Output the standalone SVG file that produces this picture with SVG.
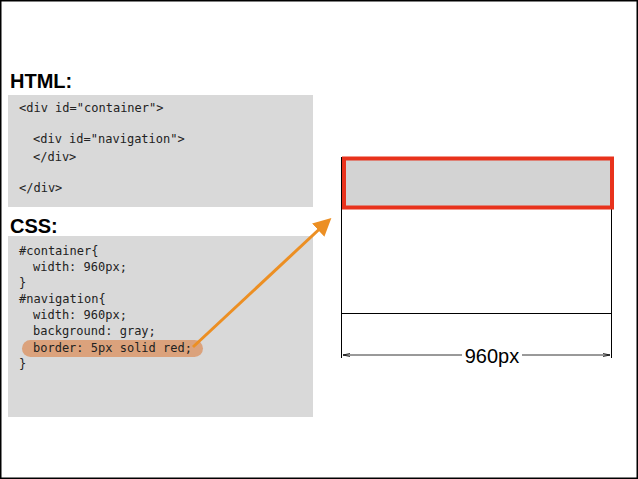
<svg xmlns="http://www.w3.org/2000/svg" width="638" height="479" viewBox="0 0 638 479">
<style>
.code{font-family:"DejaVu Sans Mono","Liberation Mono",monospace;font-size:12px;fill:#222}
.hd{font-family:"Liberation Sans",Arial,sans-serif;font-size:20px;font-weight:bold;fill:#000}
.box{fill:#d9d9d9}
</style>
<defs>
<marker id="ah" markerWidth="6" markerHeight="6" refX="4" refY="3" orient="auto" markerUnits="strokeWidth"><path d="M0,0 L6,3 L0,6 z" fill="#ec8f23"/></marker>
<marker id="sa" markerWidth="8" markerHeight="6" refX="7" refY="3" orient="auto-start-reverse" markerUnits="userSpaceOnUse"><path d="M0,1.5 L7,3 L0,4.5" fill="none" stroke="#000" stroke-width="0.8"/></marker>
</defs>
<rect x="0" y="0" width="638" height="479" fill="#fff"/>
<rect x="0.75" y="0.75" width="636.5" height="477.5" fill="none" stroke="#000" stroke-width="1.5"/>
<g id="html">
<text class="hd" x="10" y="88">HTML:</text>
<rect class="box" x="8" y="95" width="305" height="112"/>
<text class="code" x="19" y="112">&lt;div id="container"&gt;</text>
<text class="code" x="33" y="143">&lt;div id="navigation"&gt;</text>
<text class="code" x="33" y="161">&lt;/div&gt;</text>
<text class="code" x="19" y="192">&lt;/div&gt;</text>
</g>
<g id="css">
<text class="hd" x="10" y="233">CSS:</text>
<rect class="box" x="8" y="236" width="305" height="181"/>
<rect x="22" y="340" width="181" height="17" rx="8.5" fill="#dba27c"/>
<text class="code" x="19" y="255">#container{</text>
<text class="code" x="33" y="271">width: 960px;</text>
<text class="code" x="19" y="287">}</text>
<text class="code" x="19" y="303">#navigation{</text>
<text class="code" x="33" y="319">width: 960px;</text>
<text class="code" x="33" y="335">background: gray;</text>
<text class="code" x="33" y="352">border: 5px solid red;</text>
<text class="code" x="19" y="368">}</text>
</g>
<g id="layout">
<rect x="341.5" y="157.5" width="270" height="156" fill="#fff" stroke="#000" stroke-width="1"/>
<rect x="344" y="158.5" width="268" height="49" fill="#d3d3d3" stroke="#e8321c" stroke-width="4"/>
</g>
<g id="connectors">
<line x1="193" y1="347" x2="327" y2="222" stroke="#ec8f23" stroke-width="3" marker-end="url(#ah)"/>
<line x1="341.5" y1="314" x2="341.5" y2="358" stroke="#000" stroke-width="1"/>
<line x1="611.5" y1="314" x2="611.5" y2="358" stroke="#000" stroke-width="1"/>
<line x1="343" y1="355" x2="610" y2="355" stroke="#000" stroke-width="0.8" marker-start="url(#sa)" marker-end="url(#sa)"/>
<rect x="462" y="344" width="60" height="22" fill="#fff"/>
<text x="492" y="363" text-anchor="middle" font-family="Liberation Sans,Arial,sans-serif" font-size="20" fill="#000">960px</text>
</g>
</svg>
